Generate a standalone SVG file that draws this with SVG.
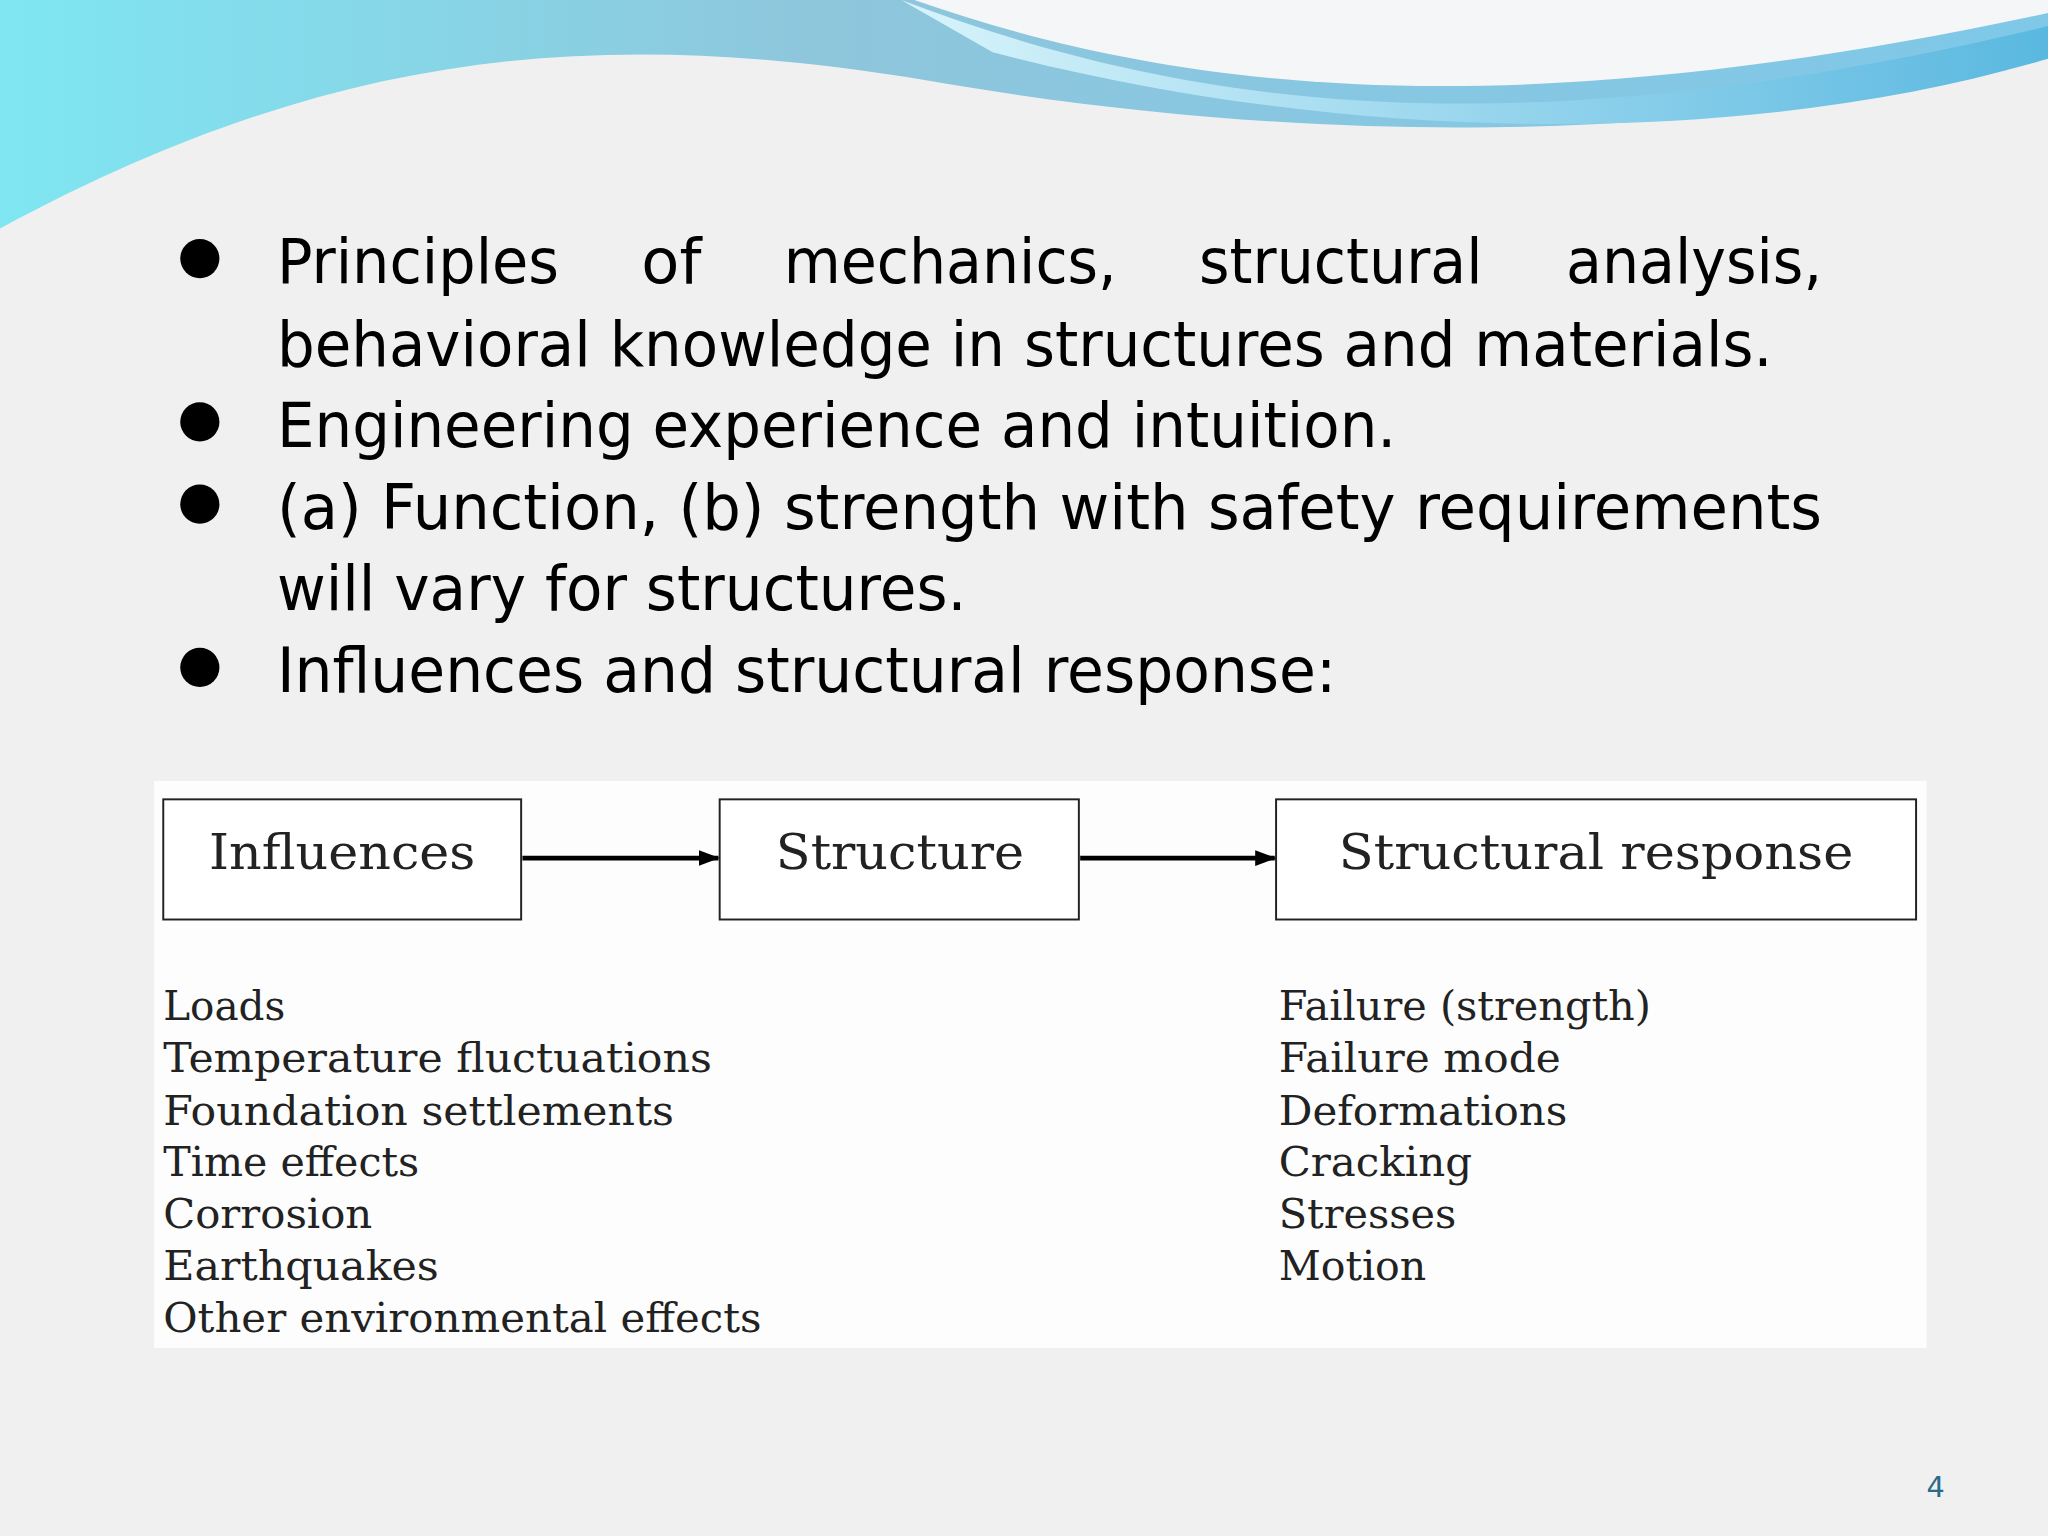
<svg xmlns="http://www.w3.org/2000/svg" width="2048" height="1536" viewBox="0 0 2048 1536">
<defs>
<linearGradient id="wave" x1="0" y1="0" x2="1" y2="0">
<stop offset="0" stop-color="#7fe6f2"/>
<stop offset="0.4" stop-color="#8ec6dc"/>
<stop offset="1" stop-color="#7fc8e8"/>
</linearGradient>
<linearGradient id="wave2" x1="0" y1="0" x2="1" y2="0">
<stop offset="0" stop-color="#d8f4fb"/>
<stop offset="1" stop-color="#5ab8e0"/>
</linearGradient>
<marker id="arr" markerWidth="16" markerHeight="16" refX="15" refY="8" orient="auto" markerUnits="userSpaceOnUse" viewBox="0 0 16 16">
<path d="M0,2 L16,8 L0,14 z" fill="#000"/>
</marker>
<style>
.b{font-family:"DejaVu Sans",Verdana,sans-serif;font-size:48px;fill:#000}
.s{font-family:"DejaVu Serif","Liberation Serif",serif;fill:#222}
.box{fill:#fff;stroke:#222;stroke-width:1.5}
.l{font-size:31px}
.n{font-size:37px}
</style>
</defs>
<g transform="scale(1.30612)">
<rect width="1568" height="1176" fill="#f0f0f0"/>
<path d="M0,0 H1568 V40 C1400,90 1100,130 700,60 C450,20 250,40 0,175 Z" fill="url(#wave)"/>
<path d="M690,0 C900,80 1150,120 1568,20 L1568,45 C1350,110 1050,115 760,40 Z" fill="url(#wave2)"/>
<path d="M700,0 C900,70 1150,100 1568,10 L1568,0 Z" fill="#f4f6f8"/>
<g id="bullets">
<circle cx="153" cy="198" r="15" fill="#000"/>
<circle cx="153" cy="323" r="15" fill="#000"/>
<circle cx="153" cy="386" r="15" fill="#000"/>
<circle cx="153" cy="511" r="15" fill="#000"/>
<text class="b" y="217"><tspan x="212" textLength="216" lengthAdjust="spacingAndGlyphs">Principles</tspan></text>
<text class="b" y="217"><tspan x="491" textLength="46" lengthAdjust="spacingAndGlyphs">of</tspan></text>
<text class="b" y="217"><tspan x="600" textLength="255" lengthAdjust="spacingAndGlyphs">mechanics,</tspan></text>
<text class="b" y="217"><tspan x="918" textLength="217" lengthAdjust="spacingAndGlyphs">structural</tspan></text>
<text class="b" y="217"><tspan x="1199" textLength="196" lengthAdjust="spacingAndGlyphs">analysis,</tspan></text>
<text class="b" x="212" y="280" textLength="1145" lengthAdjust="spacingAndGlyphs">behavioral knowledge in structures and materials.</text>
<text class="b" x="212" y="342" textLength="857" lengthAdjust="spacingAndGlyphs">Engineering experience and intuition.</text>
<text class="b" x="212" y="405" textLength="1183" lengthAdjust="spacingAndGlyphs">(a) Function, (b) strength with safety requirements</text>
<text class="b" x="212" y="467" textLength="528" lengthAdjust="spacingAndGlyphs">will vary for structures.</text>
<text class="b" x="212" y="530" textLength="811" lengthAdjust="spacingAndGlyphs">Influences and structural response:</text>
</g>
<rect x="118" y="598" width="1357" height="434" fill="#fdfdfd"/>
<g id="influences"><rect class="box" x="125" y="612" width="274" height="92"/><text class="s n" x="262" y="665" text-anchor="middle" textLength="204" lengthAdjust="spacingAndGlyphs">Influences</text></g>
<g id="structure"><rect class="box" x="551" y="612" width="275" height="92"/><text class="s n" x="689" y="665" text-anchor="middle" textLength="190" lengthAdjust="spacingAndGlyphs">Structure</text></g>
<g id="response"><rect class="box" x="977" y="612" width="490" height="92"/><text class="s n" x="1222" y="665" text-anchor="middle" textLength="394" lengthAdjust="spacingAndGlyphs">Structural response</text></g>
<g id="connectors" stroke="#000" stroke-width="3.5">
<line x1="400" y1="657" x2="550" y2="657" marker-end="url(#arr)"/>
<line x1="827" y1="657" x2="976" y2="657" marker-end="url(#arr)"/>
</g>
<g id="influence-list" class="s l">
<text x="125" y="781">Loads</text>
<text x="125" y="821" textLength="420" lengthAdjust="spacingAndGlyphs">Temperature fluctuations</text>
<text x="125" y="861" textLength="391" lengthAdjust="spacingAndGlyphs">Foundation settlements</text>
<text x="125" y="900" textLength="196" lengthAdjust="spacingAndGlyphs">Time effects</text>
<text x="125" y="940" textLength="160" lengthAdjust="spacingAndGlyphs">Corrosion</text>
<text x="125" y="980" textLength="211" lengthAdjust="spacingAndGlyphs">Earthquakes</text>
<text x="125" y="1020" textLength="458" lengthAdjust="spacingAndGlyphs">Other environmental effects</text>
</g>
<g id="response-list" class="s l">
<text x="979" y="781" textLength="285" lengthAdjust="spacingAndGlyphs">Failure (strength)</text>
<text x="979" y="821" textLength="216" lengthAdjust="spacingAndGlyphs">Failure mode</text>
<text x="979" y="861" textLength="221" lengthAdjust="spacingAndGlyphs">Deformations</text>
<text x="979" y="900" textLength="148" lengthAdjust="spacingAndGlyphs">Cracking</text>
<text x="979" y="940" textLength="136" lengthAdjust="spacingAndGlyphs">Stresses</text>
<text x="979" y="980" textLength="113" lengthAdjust="spacingAndGlyphs">Motion</text>
</g>
<text x="1482" y="1146" text-anchor="middle" font-family="DejaVu Sans,sans-serif" font-size="22" fill="#2a6a8a">4</text>
</g>
</svg>
